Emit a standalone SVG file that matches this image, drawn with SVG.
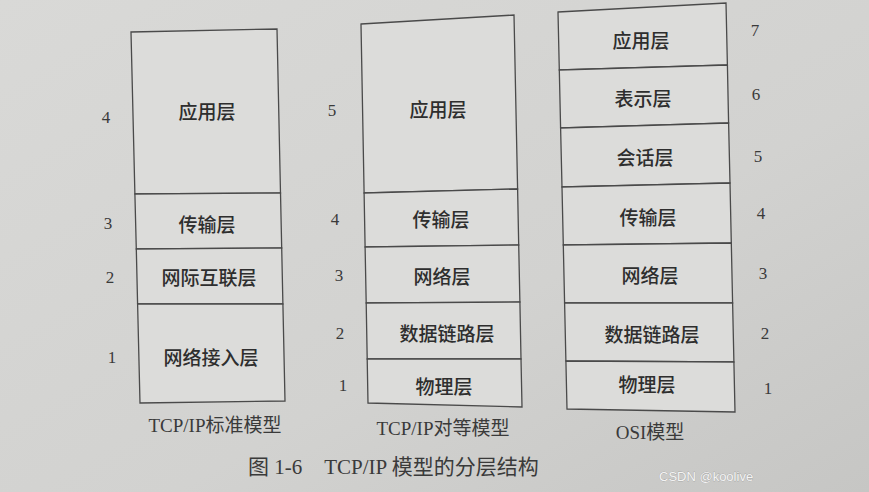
<svg xmlns="http://www.w3.org/2000/svg" width="869" height="492" viewBox="0 0 869 492">
<defs>
<linearGradient id="bg" x1="0" y1="0" x2="1" y2="1">
<stop offset="0" stop-color="#d9d9d7"/>
<stop offset="0.6" stop-color="#d2d2d0"/>
<stop offset="1" stop-color="#c6c6c4"/>
</linearGradient>
<style>
.cell{fill:#dcdcda;stroke:#4a4a4a;stroke-width:1.3}
.t{font-family:"Noto Sans CJK SC","Noto Sans CJK JP",sans-serif;font-size:19px;font-weight:500;fill:#2e2e2e;text-anchor:middle;dominant-baseline:central}
.n{font-family:"Liberation Serif",serif;font-size:17px;fill:#3a3a3a;text-anchor:middle;dominant-baseline:central}
.cap{font-family:"Liberation Serif","Noto Sans CJK SC",serif;font-size:19px;fill:#3a3a3a;text-anchor:middle;dominant-baseline:central}
.fig{font-family:"Liberation Serif","Noto Sans CJK SC",serif;font-size:21px;fill:#3a3a3a;dominant-baseline:central}
.wm{font-family:"Liberation Sans",sans-serif;font-size:13px;fill:#f4f4f4;stroke:#8a8a8a;stroke-width:0.4;paint-order:stroke}
</style>
</defs>
<rect width="869" height="492" fill="url(#bg)"/>

<g id="tcpip-standard">
<g id="s-app"><polygon class="cell" points="131,32 277,29 280.5,193 134.9,194"/><text class="t" x="207" y="110">应用层</text><text class="n" x="106" y="117">4</text></g>
<g id="s-trans"><polygon class="cell" points="134.9,194 280.5,193 281.7,248 136.3,249"/><text class="t" x="207" y="223">传输层</text><text class="n" x="108" y="223">3</text></g>
<g id="s-inet"><polygon class="cell" points="136.3,249 281.7,248 282.9,304 137.6,304"/><text class="t" x="209" y="276">网际互联层</text><text class="n" x="110" y="277">2</text></g>
<g id="s-link"><polygon class="cell" points="137.6,304 282.9,304 285,401 140,403"/><text class="t" x="211" y="356">网络接入层</text><text class="n" x="112" y="357">1</text></g>
<text class="cap" x="215" y="425">TCP/IP标准模型</text>
</g>

<g id="tcpip-peer">
<g id="p-app"><polygon class="cell" points="361,24 514,15 517.6,189 364.1,193"/><text class="t" x="438" y="108">应用层</text><text class="n" x="332" y="110">5</text></g>
<g id="p-trans"><polygon class="cell" points="364.1,193 517.6,189 518.7,245 365.1,247"/><text class="t" x="441" y="218">传输层</text><text class="n" x="335" y="219">4</text></g>
<g id="p-net"><polygon class="cell" points="365.1,247 518.7,245 519.9,302 366.2,303"/><text class="t" x="442" y="275">网络层</text><text class="n" x="339" y="275">3</text></g>
<g id="p-dl"><polygon class="cell" points="366.2,303 519.9,302 521,359 367.2,359"/><text class="t" x="447" y="332">数据链路层</text><text class="n" x="340" y="333">2</text></g>
<g id="p-phy"><polygon class="cell" points="367.2,359 521,359 522,407 368,403"/><text class="t" x="444" y="385">物理层</text><text class="n" x="343" y="385">1</text></g>
<text class="cap" x="443" y="428">TCP/IP对等模型</text>
</g>

<g id="osi">
<g id="o-app"><polygon class="cell" points="558,12 726,3 727.4,65 559.3,70"/><text class="t" x="641" y="39">应用层</text><text class="n" x="755" y="30">7</text></g>
<g id="o-pres"><polygon class="cell" points="559.3,70 727.4,65 728.6,123 560.6,128"/><text class="t" x="643" y="97">表示层</text><text class="n" x="756" y="94">6</text></g>
<g id="o-sess"><polygon class="cell" points="560.6,128 728.6,123 730,183 562,187"/><text class="t" x="645" y="156">会话层</text><text class="n" x="758" y="156">5</text></g>
<g id="o-trans"><polygon class="cell" points="562,187 730,183 731.3,243 563.3,245"/><text class="t" x="648" y="216">传输层</text><text class="n" x="761" y="213">4</text></g>
<g id="o-net"><polygon class="cell" points="563.3,245 731.3,243 732.6,303 564.6,303"/><text class="t" x="650" y="274">网络层</text><text class="n" x="763" y="273">3</text></g>
<g id="o-dl"><polygon class="cell" points="564.6,303 732.6,303 733.9,362 565.9,361"/><text class="t" x="652" y="333">数据链路层</text><text class="n" x="765" y="333">2</text></g>
<g id="o-phy"><polygon class="cell" points="565.9,361 733.9,362 735,412 567,409"/><text class="t" x="647" y="383">物理层</text><text class="n" x="768" y="388">1</text></g>
<text class="cap" x="650" y="432">OSI模型</text>
</g>

<text class="fig" x="248" y="467">图 1-6<tspan dx="22">TCP/IP 模型的分层结构</tspan></text>
<text class="wm" x="659" y="481">CSDN @koolive</text>
</svg>
